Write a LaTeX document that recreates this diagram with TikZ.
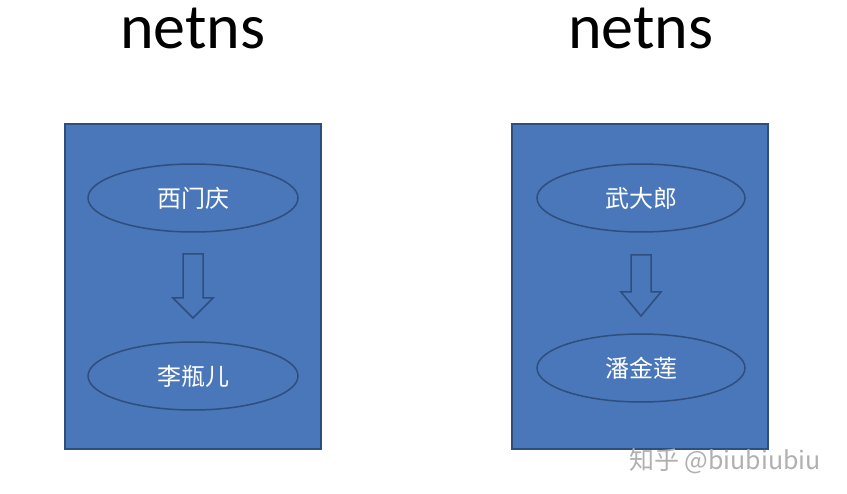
\documentclass[tikz,border=0pt]{standalone}
\usepackage{fontspec}
\setmainfont{Carlito}
\newfontfamily\cjk{Noto Sans CJK SC}
\usetikzlibrary{shapes.geometric}
\definecolor{boxfill}{HTML}{4A77B9}
\definecolor{boxline}{HTML}{2E4E7E}
\definecolor{wm}{HTML}{B0B0B0}
\tikzset{
  x=1pt,y=-1pt,
  nsbox/.style={draw=boxline,line width=1.5pt,fill=boxfill},
  proc/.style={ellipse,draw=boxline,line width=1.5pt,fill=boxfill,text=white,font=\cjk\fontsize{24}{28}\selectfont,inner sep=0pt},
  title/.style={font=\fontsize{64}{70}\selectfont,text=black},
  hollowarrow/.style={draw=boxline,line width=1.5pt,fill=boxfill,line join=miter}
}
\begin{document}
\begin{tikzpicture}
\useasboundingbox (0,0) rectangle (847,494);
% titles
\node[title,anchor=base] (t1) at (193,49) {netns};
\node[title,anchor=base] (t2) at (641,49) {netns};
% boxes
\draw[nsbox] (65,124) rectangle (321,449);
\draw[nsbox] (512,124) rectangle (768,449);
% left ellipses
\node[proc,minimum width=210,minimum height=68] (a1) at (193,198) {西门庆};
\node[proc,minimum width=210,minimum height=68] (a2) at (193,376) {李瓶儿};
% right ellipses
\node[proc,minimum width=208,minimum height=68] (c1) at (641,198) {武大郎};
\node[proc,minimum width=208,minimum height=68] (c2) at (641,368) {潘金莲};
% arrows
\draw[hollowarrow] (183,254) -- (203,254) -- (203,298) -- (213,298) -- (193,318) -- (173,298) -- (183,298) -- cycle;
\draw[hollowarrow] (631,255) -- (651,255) -- (651,292) -- (661,292) -- (641,316) -- (621,292) -- (631,292) -- cycle;
% watermark
\node[anchor=base west,text=wm,font=\cjk\fontsize{25}{30}\selectfont,inner sep=0pt] (w) at (629,470) {知乎 @biubiubiu};
\end{tikzpicture}
\end{document}
